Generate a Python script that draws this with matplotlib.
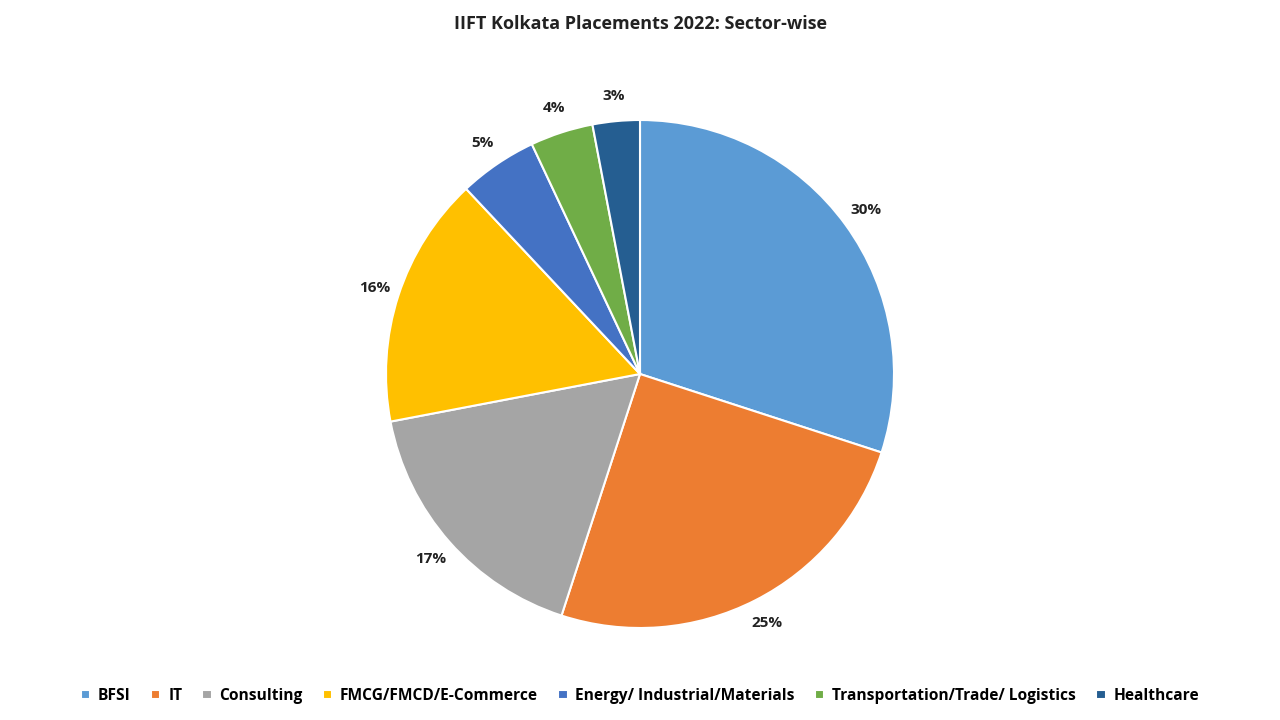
import matplotlib.pyplot as plt

# === Data ===
sectors = ["BFSI", "IT", "Consulting", "FMCG/FMCD/E-Commerce",
           "Energy/ Industrial/Materials", "Transportation/Trade/ Logistics", "Healthcare"]
shares = [30, 25, 17, 16, 5, 4, 3]
colors = ["#5b9bd5", "#ed7d31", "#a5a5a5", "#ffc000", "#4472c4", "#70ad47", "#255e91"]

plt.rcParams['font.family'] = ['Open Sans', 'DejaVu Sans']

fig = plt.figure(figsize=(12.8, 7.2), dpi=100)
cx, cy, r = 640, 374, 254
ax = fig.add_axes([(cx - r) / 1280, (720 - cy - r) / 720, 2 * r / 1280, 2 * r / 720])

wedges, texts = ax.pie(shares, colors=colors, startangle=90, counterclock=False,
                       labels=[f"{v}%" for v in shares], labeldistance=1.1,
                       wedgeprops=dict(edgecolor="white", linewidth=1.5),
                       textprops=dict(fontsize=11, fontweight="bold", color="#222222"))
for t in texts:
    t.set_horizontalalignment("center")
    t.set_clip_on(False)
ax.set_xlim(-1, 1)
ax.set_ylim(-1, 1)
ax.set_aspect("equal")

fig.text(0.5, 1 - 24 / 720, "IIFT Kolkata Placements 2022: Sector-wise",
         ha="center", va="center", fontsize=13, fontweight="bold", color="#222222")

fig.legend(wedges, sectors, loc="center", bbox_to_anchor=(0.5, 1 - 696 / 720),
           ncol=7, frameon=False, handlelength=0.6, handleheight=0.6,
           columnspacing=1.3, handletextpad=0.5,
           prop=dict(size=11.2, weight="bold"))

fig.savefig("out.png", dpi=100, facecolor="white")
